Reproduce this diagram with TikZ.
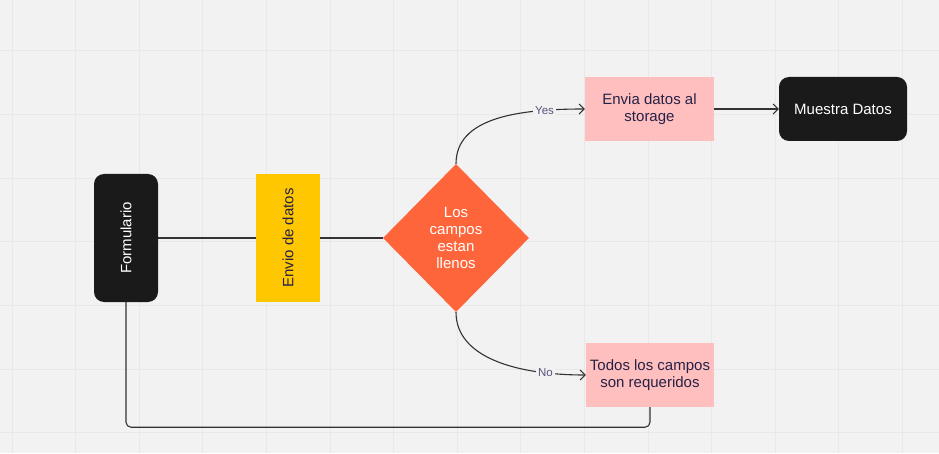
\documentclass[tikz,border=0pt]{standalone}
\usepackage{fontspec}
\setmainfont{Liberation Sans}
\usetikzlibrary{shapes.geometric,arrows.meta}
\definecolor{bgcol}{HTML}{F2F2F2}
\definecolor{gridcol}{HTML}{E8E8E8}
\definecolor{darkbox}{HTML}{1A1A1A}
\definecolor{yellowbox}{HTML}{FFC700}
\definecolor{orangebox}{HTML}{FF653B}
\definecolor{pinkbox}{HTML}{FFBFBF}
\definecolor{inktext}{HTML}{262145}
\definecolor{labeltext}{HTML}{55557A}
\definecolor{linecol}{HTML}{333333}
\begin{document}
\begin{tikzpicture}[x=1pt, y=1pt,
    font=\fontsize{15}{17}\selectfont,
    >={Straight Barb[length=5pt,width=10pt]},
    gridline/.style={color=gridcol, line width=1pt},
    term/.style={fill=darkbox, text=white, rounded corners=10pt, inner sep=0pt, align=center},
    procbox/.style={fill=pinkbox, text=inktext, inner sep=0pt, align=center},
    decision/.style={diamond, fill=orangebox, text=white, inner sep=0pt, align=center},
    conn/.style={color=linecol, line width=1.1pt},
    choice/.style={fill=bgcol, text=labeltext, inner sep=2pt, font=\fontsize{11.5}{13}\selectfont}]
    \useasboundingbox (0,0) rectangle (939,453);
    \fill[bgcol] (0,0) rectangle (939,453);
    \foreach \i in {0,...,14}
        \draw[gridline] ({12+63.6*\i},0) -- ++(0,453);
    \foreach \j in {0,...,6}
        \draw[gridline] (0,{402-63.6*\j}) -- ++(939,0);
    \node[term, minimum width=64pt, minimum height=128pt] (form) at (126,215) {\rotatebox{90}{Formulario}};
    \node[fill=yellowbox, text=inktext, inner sep=0pt, minimum width=64pt, minimum height=128pt] (envio) at (288,215) {\rotatebox{90}{Envio de datos}};
    \node[decision, minimum width=146pt, minimum height=148pt] (dec) at (456,215) {Los\\campos\\estan\\llenos};
    \node[procbox, minimum width=129pt, minimum height=64pt] (envia) at (649.5,344) {Envia datos al\\storage};
    \node[term, minimum width=128pt, minimum height=64pt] (muestra) at (843,344) {Muestra Datos};
    \node[procbox, minimum width=128pt, minimum height=64pt] (todos) at (650,78) {Todos los campos\\son requeridos};
    \draw[conn] (form) -- (envio);
    \draw[conn] (envio) -- (dec);
    \draw[conn, ->] (dec.north) .. controls +(0,45) and +(-70,0) .. (envia.west) node[choice, pos=0.8] {Yes};
    \draw[conn, ->] (dec.south) .. controls +(0,-45) and +(-70,0) .. (todos.west) node[choice, pos=0.8] {No};
    \draw[conn, ->] (envia) -- (muestra);
    \draw[conn, rounded corners=5pt] (todos.south) -- ++(0,-20) -| (form.south);
\end{tikzpicture}
\end{document}
